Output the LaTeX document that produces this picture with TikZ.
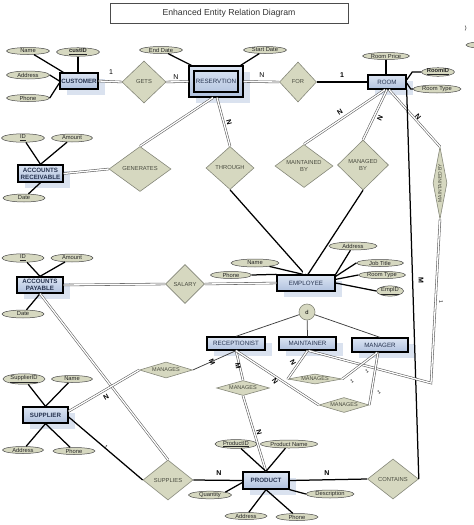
\documentclass[tikz,border=0pt]{standalone}
\usepackage{fontspec}
\setmainfont{Liberation Sans}
\usetikzlibrary{shapes.geometric,shadows,calc}
\definecolor{entA}{HTML}{DCE5F3}
\definecolor{entB}{HTML}{B0C1DE}
\definecolor{shd}{HTML}{DAE2EF}
\definecolor{relf}{HTML}{D6D8C0}
\definecolor{reld}{HTML}{86887A}
\definecolor{attd}{HTML}{4A4A4A}
\definecolor{dblc}{HTML}{5A5A5A}
\definecolor{etext}{HTML}{26334F}
\definecolor{rtext}{HTML}{4A4C40}
\newcommand\myEnt{\fontsize{6.2}{6.8}\selectfont}
\newcommand\myRel{\fontsize{5.8}{6.6}\selectfont}
\newcommand\myMan{\fontsize{5.5}{6}\selectfont}
\newcommand\myAtt{\fontsize{5.8}{6.4}\selectfont}
\newcommand\myLab{\fontsize{7}{7}\selectfont}
\begin{document}
\begin{tikzpicture}[x=1pt,y=-1pt,
  ent/.style={rectangle,draw=black,line width=1.3pt,top color=entA,bottom color=entB,text=etext,font=\myEnt,inner sep=0pt,align=center,drop shadow={shadow xshift=7pt,shadow yshift=-6pt,fill=shd,opacity=1}},
  entb/.style={ent,font=\myEnt\bfseries},
  rel/.style={diamond,draw=reld,line width=0.6pt,fill=relf,text=rtext,font=\myRel,inner sep=0pt,align=center},
  flat/.style={rel,aspect=5,font=\myMan},
  att/.style={ellipse,draw=attd,line width=0.5pt,fill=relf,text=black!85,font=\myAtt,inner sep=0pt},
  al/.style={draw=black,line width=1.25pt},
  dbl/.style={draw=dblc,line width=0.55pt,double=white,double distance=1.3pt},
  thn/.style={draw=black!75,line width=0.75pt},
  lab/.style={font=\myLab,inner sep=0pt},
  labb/.style={font=\myLab\bfseries,inner sep=0pt}
]
\useasboundingbox (0,0) rectangle (474,525);

% title
\node[draw=black!70,line width=0.8pt,minimum width=238pt,minimum height=20pt,font=\fontsize{8.7}{9}\selectfont,text=black!80] (title) at (229,13) {Enhanced Entity Relation Diagram};

% partial shapes at the right edge
\begin{scope}
\clip (0,0) rectangle (474,525);
\node[att,minimum width=42pt,minimum height=7pt] (cut) at (487,45) {};
\end{scope}
\draw[black!70,line width=0.5pt] (465,25.5) to[bend left=50] (465,30.5);

% entities
\node[entb,minimum width=38pt,minimum height=16pt] (cust) at (79,81) {CUSTOMER};
\node[ent,minimum width=54pt,minimum height=31pt] (resv) at (216,81.5) {};
\node[draw=black,line width=1.3pt,minimum width=44pt,minimum height=21pt,inner sep=0pt,font=\myEnt,text=etext] (resvin) at (216,81.5) {RESERVTION};
\node[ent,minimum width=38pt,minimum height=14pt] (room) at (387,82) {ROOM};
\node[entb,minimum width=45pt,minimum height=17pt] (ar) at (40.5,173.5) {ACCOUNTS\\RECEIVABLE};
\node[entb,minimum width=46pt,minimum height=16pt] (ap) at (40,285) {ACCOUNTS\\PAYABLE};
\node[ent,minimum width=58pt,minimum height=16pt] (emp) at (306,283) {EMPLOYEE};
\node[ent,minimum width=58pt,minimum height=13pt] (rec) at (236,343.5) {RECEPTIONIST};
\node[ent,minimum width=57pt,minimum height=13pt] (mnt) at (307.5,343.5) {MAINTAINER};
\node[ent,minimum width=56pt,minimum height=14pt] (mgr) at (380,345) {MANAGER};
\node[entb,minimum width=45pt,minimum height=16pt] (sup) at (45.5,415) {SUPPLIER};
\node[entb,minimum width=46pt,minimum height=17pt] (prod) at (266,480.5) {PRODUCT};

% relationships
\node[rel,minimum width=44pt,minimum height=42pt] (gets) at (144,82) {GETS};
\node[rel,minimum width=37pt,minimum height=40pt] (for) at (298,82) {FOR};
\node[rel,minimum width=62pt,minimum height=45pt] (gen) at (140,169) {GENERATES};
\node[rel,minimum width=48pt,minimum height=43pt] (thr) at (230,168) {THROUGH};
\node[rel,aspect=1.4,minimum width=58pt,minimum height=43pt] (mby) at (304,166) {MAINTAINED\\BY};
\node[rel,minimum width=51pt,minimum height=50pt] (mgby) at (363,165) {MANAGED\\BY};
\node[rel,minimum width=14pt,minimum height=72pt] (mby2) at (440,183) {};
\node[font=\fontsize{5}{5}\selectfont,text=rtext,rotate=90,inner sep=0pt] (mby2t) at (mby2) {MAINTAINED BY};
\node[rel,minimum width=39pt,minimum height=39pt] (sal) at (185,284) {SALARY};
\node[flat,minimum width=53pt,minimum height=16pt] (man1) at (166,370) {MANAGES};
\node[flat,minimum width=53pt,minimum height=15pt] (man2) at (243,388) {MANAGES};
\node[flat,minimum width=54pt,minimum height=10pt] (man3) at (315,379) {MANAGES};
\node[flat,minimum width=50pt,minimum height=15pt] (man4) at (344,405) {MANAGES};
\node[rel,minimum width=50pt,minimum height=40pt] (sups) at (168,480) {SUPPLIES};
\node[rel,minimum width=51pt,minimum height=40pt] (cont) at (393,479) {CONTAINS};
\node[circle,draw=reld,line width=0.6pt,fill=relf,minimum size=16pt,inner sep=0pt,font=\myRel] (dd) at (307,312) {d};

% attributes
\node[att,minimum width=43pt,minimum height=7pt] (cname) at (28,51) {Name};
\node[att,minimum width=43pt,minimum height=7pt] (custid) at (78,52) {\underline{\textbf{custID}}};
\node[att,minimum width=43pt,minimum height=8pt] (caddr) at (28,75) {Address};
\node[att,minimum width=43pt,minimum height=7pt] (cphone) at (28,98) {Phone};
\node[att,minimum width=43pt,minimum height=7pt] (enddate) at (161,50) {End Date};
\node[att,minimum width=43pt,minimum height=7pt] (startdate) at (265,50) {Start Date};
\node[att,minimum width=47pt,minimum height=7pt] (rprice) at (386,56) {Room Price};
\node[att,minimum width=33pt,minimum height=8pt] (roomid) at (438,72) {\underline{\textbf{RoomID}}};
\node[att,minimum width=48pt,minimum height=8pt] (rtype) at (437,89) {Room Type};
\node[att,minimum width=43pt,minimum height=8pt] (arid) at (23,138) {\underline{ID}};
\node[att,minimum width=41pt,minimum height=8pt] (aramt) at (72,138) {Amount};
\node[att,minimum width=42pt,minimum height=8pt] (ardate) at (24,198) {Date};
\node[att,minimum width=42pt,minimum height=8pt] (apid) at (23,258) {\underline{ID}};
\node[att,minimum width=42pt,minimum height=8pt] (apamt) at (72,258) {Amount};
\node[att,minimum width=42pt,minimum height=8pt] (apdate) at (23,314) {Date};
\node[att,minimum width=48pt,minimum height=8pt] (ename) at (255,263) {Name};
\node[att,minimum width=41pt,minimum height=7pt] (ephone) at (231,275) {Phone};
\node[att,minimum width=48pt,minimum height=8pt] (eaddr) at (353,246) {Address};
\node[att,minimum width=47pt,minimum height=7pt] (ejob) at (380,263) {Job Title};
\node[att,minimum width=47pt,minimum height=7pt] (ertype) at (382,275) {Room Type};
\node[att,minimum width=27pt,minimum height=7pt] (eid) at (390,291) {\underline{EmpID}};
\node[att,minimum width=42pt,minimum height=7pt] (sid) at (24,379) {\underline{SupplierID}};
\node[att,minimum width=41pt,minimum height=7pt] (sname) at (72,379) {Name};
\node[att,minimum width=41pt,minimum height=7pt] (saddr) at (23,450) {Address};
\node[att,minimum width=42pt,minimum height=7pt] (sphone) at (74,451) {Phone};
\node[att,minimum width=42pt,minimum height=8pt] (pid) at (236,444) {\underline{ProductID}};
\node[att,minimum width=57pt,minimum height=8pt] (pname) at (289,444) {Product Name};
\node[att,minimum width=43pt,minimum height=7pt] (pqty) at (210,495) {Quantity};
\node[att,minimum width=48pt,minimum height=8pt] (pdesc) at (330,494) {Description};
\node[att,minimum width=42pt,minimum height=7pt] (paddr) at (246,516) {Address};
\node[att,minimum width=42pt,minimum height=7pt] (pphone) at (297,517) {Phone};

% customer / reservation / room
\draw[al] (cname) -- ([xshift=4pt]cust.north west);
\draw[al] (custid) -- (custid |- cust.north);
\draw[al] (caddr.east) -- (cust.west);
\draw[al] (cphone.east) -- ([yshift=-2pt]cust.west);
\draw[dbl] (cust.east) -- (gets.west);
\draw[dbl] (gets.east) -- (resv.west);
\draw[al] (enddate) -- ([xshift=3pt]resv.north west);
\draw[al] (startdate) -- ([xshift=-3pt]resv.north east);
\draw[dbl] (resv.east) -- (for.west);
\draw[al] (for.east) -- (room.west);
\draw[al] (rprice) -- (rprice |- room.north);
\draw[al] ([yshift=2pt]room.east) -- ([xshift=-9pt]roomid.west) -- (roomid.west);
\draw[al] ([yshift=-1pt]room.east) -- ([xshift=-2pt]rtype.west) -- (rtype.west);

% accounts receivable
\draw[al] (arid) -- (ar.north);
\draw[al] (aramt) -- (ar.north);
\draw[al] (ardate) -- (ar.south);
\draw[dbl] (ar.east) -- (gen.west);
\draw[dbl] (gen.north) -- ([xshift=-3pt]resv.south);
\draw[dbl] ([xshift=1pt]resv.south) -- (thr.north);
\draw[al] (thr.south) -- ([xshift=-1pt]emp.north);
\draw[dbl] ([xshift=-2pt]room.south) -- (mby.north);
\draw[dbl] (room.south) -- (mgby.north);
\draw[dbl] ([xshift=2pt]room.south) -- (mby2.north);
\draw[dbl] (mby.south) -- (mby.south |- emp.north);
\draw[al] (mgby.south) -- ([xshift=2pt]emp.north);
\draw[al] (room.south east) -- (cont.east);
\coordinate (mk) at (431,383);
\draw[dbl] (mby2.south) -- (mk) -- ([xshift=1pt]mnt.south);

% accounts payable
\draw[al] (apid) -- (ap.north);
\draw[al] (apamt) -- (ap.north);
\draw[al] (apdate) -- (ap.south);
\draw[dbl] (ap.east) -- (sal.west);
\draw[dbl] (sal.east) -- (emp.west);
\draw[dbl] (ap.south) -- (sups.north);

% employee
\draw[al] (ename) -- ([xshift=-3pt]emp.north);
\draw[al] (ephone.east) -- (emp.north west);
\draw[al] (eaddr) -- (emp.north east);
\draw[al] (ejob.west) -- ([yshift=-2pt]emp.north east);
\draw[al] (ertype.west) -- ([yshift=-5pt]emp.north east);
\draw[al] (eid.west) -- (emp.east);

% specialisation
\draw[thn] (dd) -- (rec.north);
\draw[thn] (dd) -- (mnt.north);
\draw[thn] (dd) -- (mgr.north);
\draw[thn] (rec.south) -- (man1.east);
\draw[dbl] (man1.west) -- ([yshift=-5pt]sup.north east);
\draw[dbl] (rec.south) -- (man2.north);
\draw[dbl] (man2.south) -- (prod.north);
\draw[dbl] (rec.south) -- (man4.west);
\draw[dbl] (man4.east) -- ([xshift=-2pt]mgr.south);
\draw[dbl] (mnt.south) -- (man3.west);
\draw[dbl] (man3.east) -- ([xshift=-3pt]mgr.south);

% supplier / product
\draw[al] (sid) -- (sup.north);
\draw[al] (sname) -- (sup.north);
\draw[al] (saddr) -- (sup.south);
\draw[al] (sphone) -- (sup.south);
\draw[al] ([yshift=-2pt]sup.east) -- (sups.west);
\draw[al] (sups.east) -- (prod.west);
\draw[al] (prod.east) -- (cont.west);
\draw[al] (pid) -- (prod.north);
\draw[al] (pname) -- (prod.north);
\draw[al] (pqty.north east) -- ([yshift=-2pt]prod.west);
\draw[al] (pdesc.west) -- (prod.south east);
\draw[al] (paddr) -- (prod.south);
\draw[al] (pphone) -- (prod.south);

% cardinality labels
\node[lab] at (111,72) {1};
\node[lab] at (176,77) {N};
\node[lab] at (262,75) {N};
\node[labb] at (342,75) {1};
\node[labb,rotate=-75] at (229,122) {N};
\node[labb,rotate=33] at (340,112) {N};
\node[labb,rotate=65] at (380,118) {N};
\node[labb,rotate=-49] at (418,117) {N};
\node[labb,rotate=-90] at (421,280) {M};
\node[lab,rotate=-90,font=\fontsize{5}{5}\selectfont] at (441,302) {1};
\node[labb,rotate=-65] at (212,362) {M};
\node[labb,rotate=-80] at (238,366) {M};
\node[labb,rotate=-55] at (275,381) {N};
\node[labb,rotate=-60] at (293,362) {N};
\node[lab,font=\fontsize{5}{5}\selectfont,rotate=30] at (352,381) {1};
\node[lab,font=\fontsize{5}{5}\selectfont,rotate=30] at (367,371) {1};
\node[lab,font=\fontsize{5}{5}\selectfont,rotate=30] at (379,392) {1};
\node[labb,rotate=30] at (106,397) {N};
\node[lab,rotate=-40,font=\fontsize{5}{5}\selectfont] at (106,447) {1};
\node[labb] at (219,473) {N};
\node[labb] at (327,473) {N};
\node[labb,rotate=-75] at (259,432) {N};
\end{tikzpicture}
\end{document}
